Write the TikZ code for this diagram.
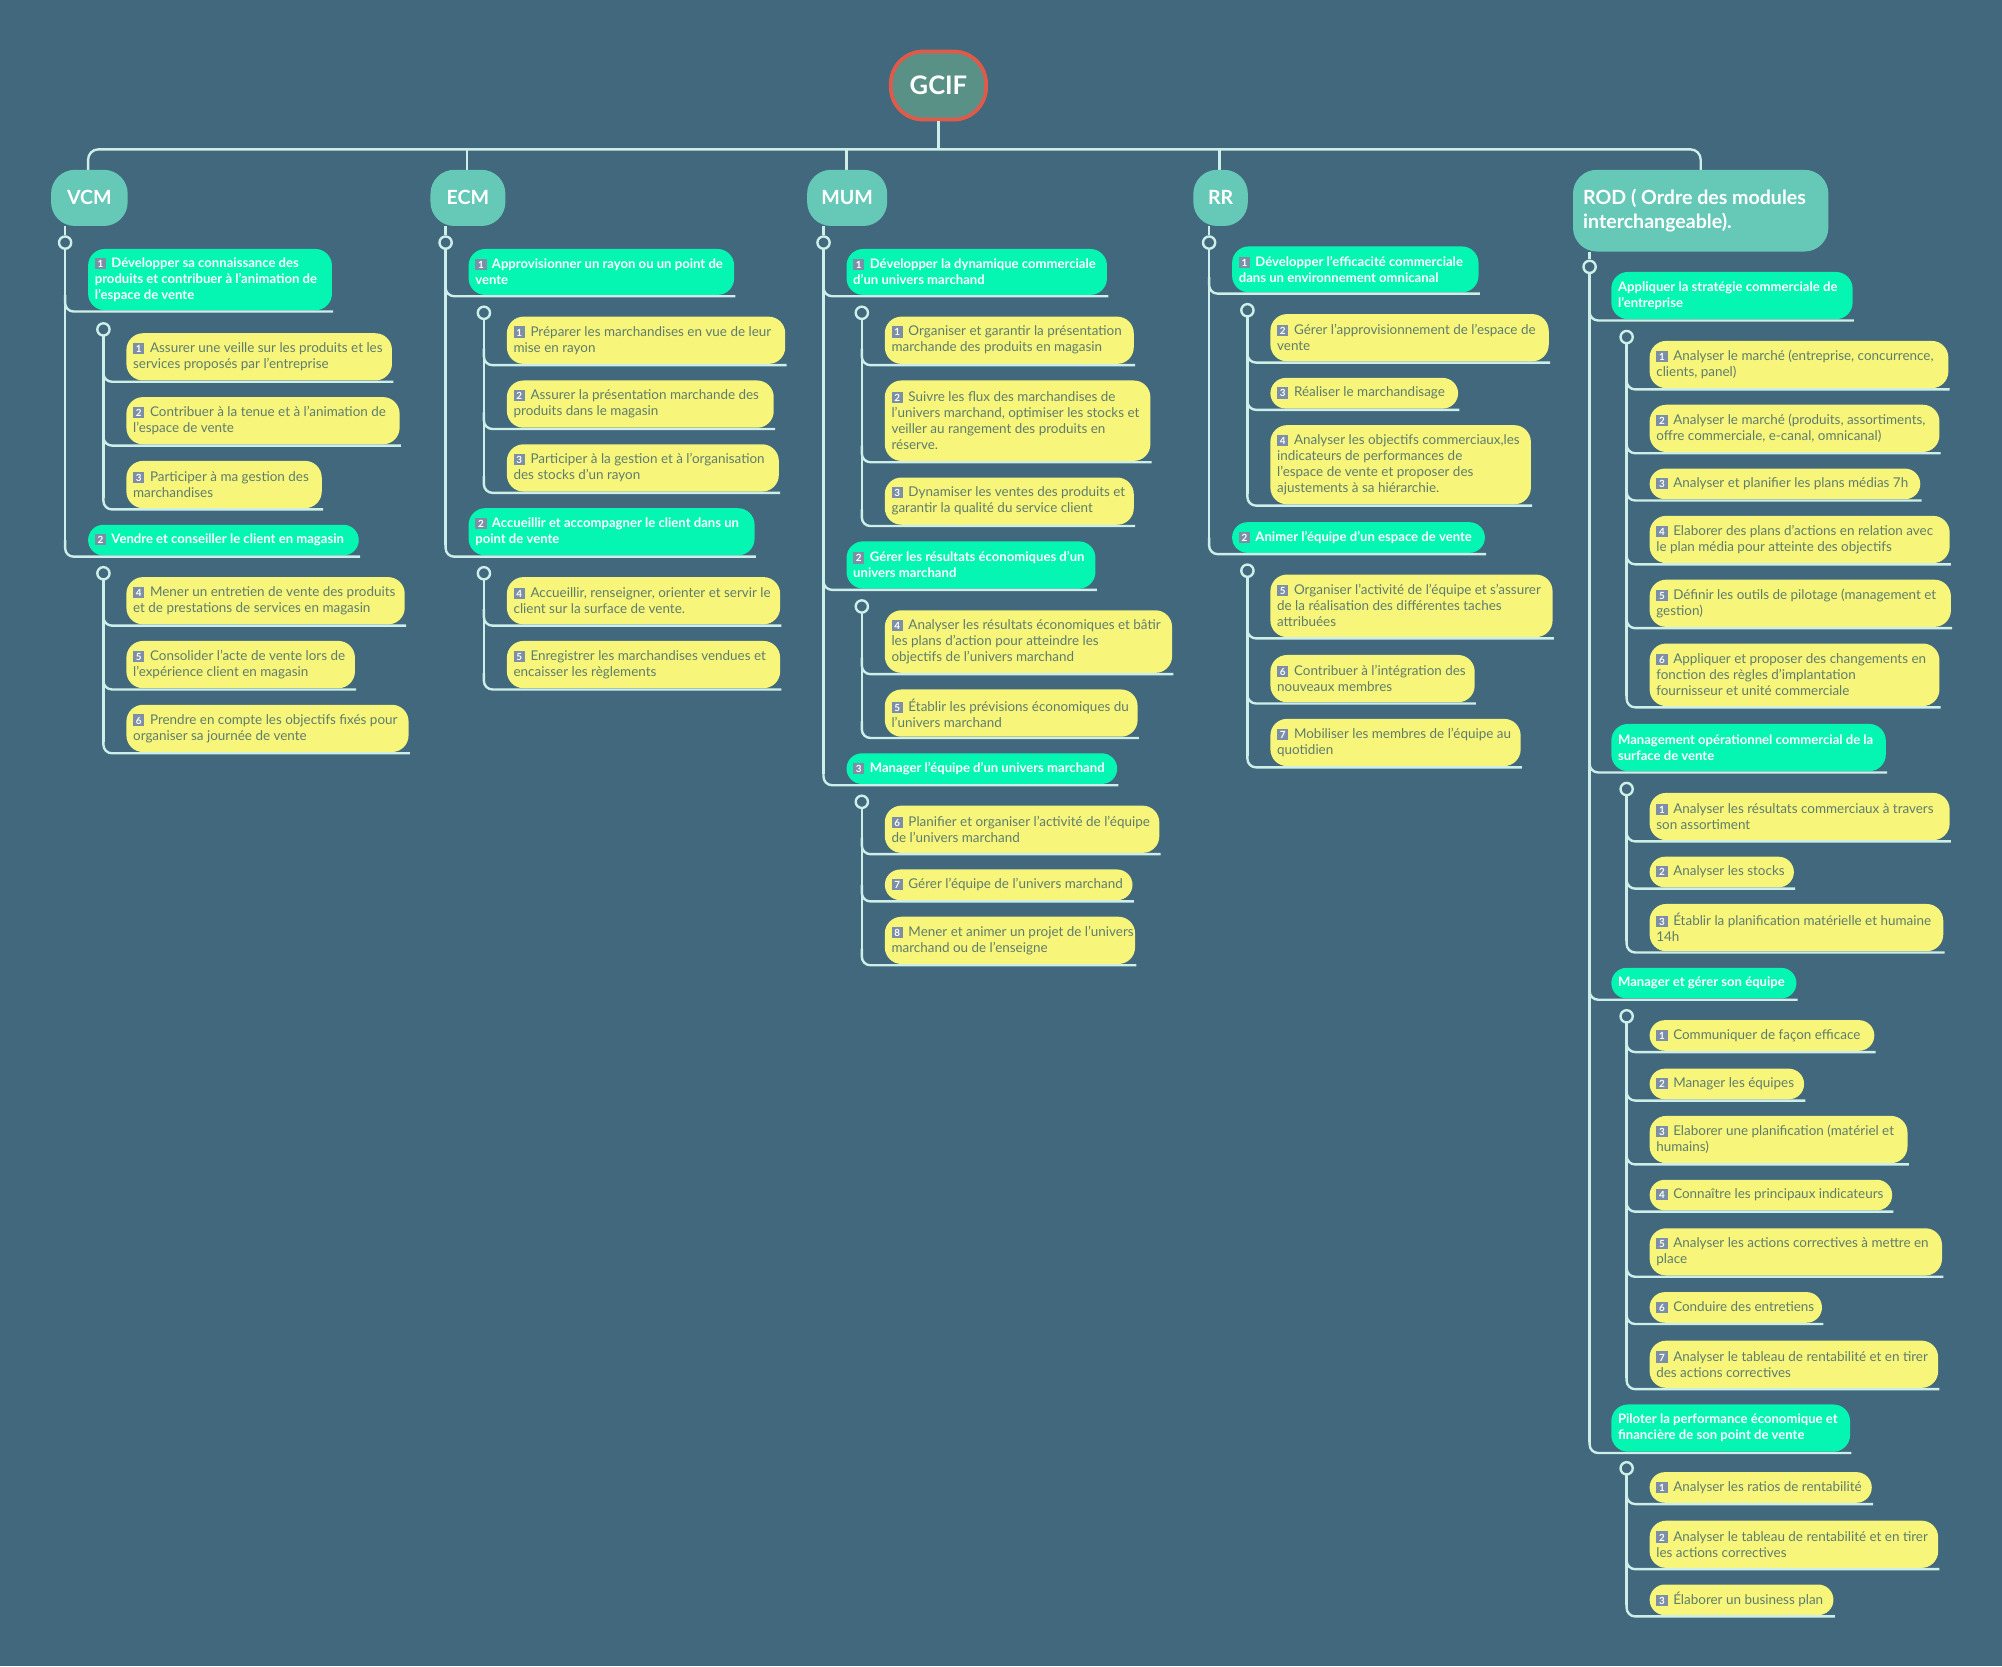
\documentclass[tikz,border=0pt]{standalone}
\usepackage{fontspec}
\setmainfont{Lato}
\definecolor{bg}{HTML}{41687C}
\definecolor{ln}{HTML}{CDEEE9}
\definecolor{mainc}{HTML}{66C9B8}
\definecolor{grn}{HTML}{05F5B2}
\definecolor{yel}{HTML}{F7F57A}
\definecolor{ytx}{HTML}{5F7D6E}
\definecolor{keyc}{HTML}{7D8FA6}
\definecolor{rootc}{HTML}{5A9186}
\definecolor{rootb}{HTML}{E05A4A}
\newcommand\kc[1]{\rlap{\textcolor{keyc}{\rule[-0.9pt]{6.6pt}{6.6pt}}}\makebox[6.6pt]{\textcolor{white}{\fontsize{5.8}{6}\selectfont\bfseries #1}}\,}
\tikzset{
 line/.style={draw=ln,line width=1.4pt},
 yelbox/.style={fill=yel},
 grnbox/.style={fill=grn},
 yeltext/.style={text=ytx,font=\fontsize{7.9}{9.4}\selectfont,align=left,inner sep=0pt},
 grntext/.style={text=white,font=\fontsize{7.7}{9.4}\selectfont\bfseries,align=left,inner sep=0pt},
 mainnode/.style={fill=mainc,text=white,font=\fontsize{11.5}{14}\selectfont\bfseries,rounded corners=14pt,inner sep=0pt,align=left},
 dot/.style={line,fill=bg},
}
% #1 name #2 kind (yel/grn) #3 x1 #4 y1 #5 x2 #6 y2 #7 parent x #8 text
\newcommand\bx[8]{%
 \pgfmathsetmacro\rc{min(13,(#6-#4)/2)*0.75}%
 \fill[#2box,rounded corners=\rc pt] (#3,#4) rectangle (#5,#6);
 \node[#2text,anchor=west] (#1) at ({#3+5},{(#4+#6)/2}) {#8};
 \draw[line,rounded corners=5pt] (#7,{#6-12}) -- (#7,{#6+1}) -- ({#5+1},{#6+1});
}
\newcommand\vl[3]{\draw[line] (#1,#2) -- (#1,{#3-8}); \draw[dot] (#1,{#2}) circle (3.6pt);}
\begin{document}
\begin{tikzpicture}[x=0.75pt,y=-0.75pt]
\fill[bg] (0,0) rectangle (1568,1305);
\useasboundingbox (0,0) rectangle (1568,1305);
% root
\node[fill=rootc,draw=rootb,line width=2.2pt,rounded corners=19pt,minimum width=56pt,minimum height=40pt,text=white,font=\fontsize{15}{18}\selectfont\bfseries] (root) at (735,67) {GCIF};
\draw[line] (root.south) -- (735,117);
\draw[line,rounded corners=6pt] (69,133) -- (69,117) -- (1332,117) -- (1332,133);
\draw[line] (366,117) -- (366,133) (663,117) -- (663,133) (955,117) -- (955,133);
% main nodes
\node[mainnode,minimum width=45pt,minimum height=33pt] (vcm) at (70,155) {VCM};
\node[mainnode,minimum width=44pt,minimum height=33pt] (ecm) at (366.5,155) {ECM};
\node[mainnode,minimum width=47pt,minimum height=33pt] (mum) at (663.5,155) {MUM};
\node[mainnode,minimum width=32pt,minimum height=33pt] (rr) at (956,155) {RR};
\node[mainnode,minimum width=150pt,minimum height=48pt] (rod) at (1332,165) {\makebox[138pt][l]{ROD ( Ordre des modules}\\interchangeable).};
% ---------- VCM
\draw[line] (51,177) -- (51,184); \vl{51}{190}{436}
\bx{v1}{grn}{69}{195}{260}{243}{51}{\kc1 Développer sa connaissance des\\produits et contribuer à l'animation de\\l'espace de vente}
\vl{81}{258}{398}
\bx{v11}{yel}{99}{261}{307}{298}{81}{\kc1 Assurer une veille sur les produits et les\\services proposés par l’entreprise}
\bx{v12}{yel}{99}{311}{313}{348}{81}{\kc2 Contribuer à la tenue et à l’animation de\\l’espace de vente}
\bx{v13}{yel}{99}{361}{252}{398}{81}{\kc3 Participer à ma gestion des\\marchandises}
\bx{v2}{grn}{69}{411}{281}{435}{51}{\kc2 Vendre et conseiller le client en magasin}
\vl{81}{449}{589}
\bx{v21}{yel}{99}{452}{317}{489}{81}{\kc4 Mener un entretien de vente des produits\\et de prestations de services en magasin}
\bx{v22}{yel}{99}{502}{278}{539}{81}{\kc5 Consolider l’acte de vente lors de\\l’expérience client en magasin}
\bx{v23}{yel}{99}{552}{320}{589}{81}{\kc6 Prendre en compte les objectifs fixés pour\\organiser sa journée de vente}
% ---------- ECM
\draw[line] (349,177) -- (349,184); \vl{349}{190}{435}
\bx{e1}{grn}{367}{195}{575}{231}{349}{\kc1 Approvisionner un rayon ou un point de\\vente}
\vl{379}{245}{385}
\bx{e11}{yel}{397}{248}{615}{285}{379}{\kc1 Préparer les marchandises en vue de leur\\mise en rayon}
\bx{e12}{yel}{397}{298}{606}{335}{379}{\kc2 Assurer la présentation marchande des\\produits dans le magasin}
\bx{e13}{yel}{397}{348}{610}{385}{379}{\kc3 Participer à la gestion et à l’organisation\\des stocks d’un rayon}
\bx{e2}{grn}{367}{398}{591}{435}{349}{\kc2 Accueillir et accompagner le client dans un\\point de vente}
\vl{379}{449}{539}
\bx{e21}{yel}{397}{452}{611}{489}{379}{\kc4 Accueillir, renseigner, orienter et servir le\\client sur la surface de vente.}
\bx{e22}{yel}{397}{502}{611}{539}{379}{\kc5 Enregistrer les marchandises vendues et\\encaisser les règlements}
% ---------- MUM
\draw[line] (645,177) -- (645,184); \vl{645}{190}{614}
\bx{m1}{grn}{663}{195}{867}{231}{645}{\kc1 Développer la dynamique commerciale\\d'un univers marchand}
\vl{675}{245}{411}
\bx{m11}{yel}{693}{248}{888}{285}{675}{\kc1 Organiser et garantir la présentation\\marchande des produits en magasin}
\bx{m12}{yel}{693}{298}{901}{361}{675}{\kc2 Suivre les flux des marchandises de\\l’univers marchand, optimiser les stocks et\\veiller au rangement des produits en\\réserve.}
\bx{m13}{yel}{693}{374}{888}{411}{675}{\kc3 Dynamiser les ventes des produits et\\garantir la qualité du service client}
\bx{m2}{grn}{663}{424}{858}{461}{645}{\kc2 Gérer les résultats économiques d’un\\univers marchand}
\vl{675}{475}{577}
\bx{m21}{yel}{693}{478}{918}{527}{675}{\kc4 Analyser les résultats économiques et bâtir\\les plans d’action pour atteindre les\\objectifs de l’univers marchand}
\bx{m22}{yel}{693}{540}{891}{577}{675}{\kc5 Établir les prévisions économiques du\\l’univers marchand}
\bx{m3}{grn}{663}{590}{875}{614}{645}{\kc3 Manager l’équipe d’un univers marchand}
\vl{675}{628}{755}
\bx{m31}{yel}{693}{631}{908}{668}{675}{\kc6 Planifier et organiser l’activité de l’équipe\\de l’univers marchand}
\bx{m32}{yel}{693}{681}{887}{705}{675}{\kc7 Gérer l’équipe de l’univers marchand}
\bx{m33}{yel}{693}{718}{889}{755}{675}{\kc8 Mener et animer un projet de l’univers\\marchand ou de l’enseigne}
% ---------- RR
\draw[line] (947,177) -- (947,184); \vl{947}{190}{433}
\bx{r1}{grn}{965}{193}{1158}{229}{947}{\kc1 Développer l’efficacité commerciale\\dans un environnement omnicanal}
\vl{977}{243}{395}
\bx{r11}{yel}{995}{246}{1213}{283}{977}{\kc2 Gérer l’approvisionnement de l’espace de\\vente}
\bx{r12}{yel}{995}{296}{1142}{320}{977}{\kc3 Réaliser le marchandisage}
\bx{r13}{yel}{995}{333}{1199}{395}{977}{\kc4 Analyser les objectifs commerciaux,les\\indicateurs de performances de\\l’espace de vente et proposer des\\ajustements à sa hiérarchie.}
\bx{r2}{grn}{965}{409}{1163}{433}{947}{\kc2 Animer l’équipe d’un espace de vente}
\vl{977}{447}{600}
\bx{r21}{yel}{995}{450}{1216}{499}{977}{\kc5 Organiser l’activité de l’équipe et s’assurer\\de la réalisation des différentes taches\\attribuées}
\bx{r22}{yel}{995}{513}{1155}{550}{977}{\kc6 Contribuer à l’intégration des\\nouveaux membres}
\bx{r23}{yel}{995}{563}{1191}{600}{977}{\kc7 Mobiliser les membres de l’équipe au\\quotidien}
% ---------- ROD
\draw[line] (1245,197) -- (1245,203); \vl{1245}{209}{1137}
\bx{o1}{grn}{1262}{213}{1451}{250}{1245}{Appliquer la stratégie commerciale de\\l’entreprise}
\vl{1274}{264}{553}
\bx{o11}{yel}{1292}{267}{1526}{304}{1274}{\kc1 Analyser le marché (entreprise, concurrence,\\clients, panel)}
\bx{o12}{yel}{1292}{317}{1519}{354}{1274}{\kc2 Analyser le marché (produits, assortiments,\\offre commerciale, e-canal, omnicanal)}
\bx{o13}{yel}{1292}{367}{1504}{391}{1274}{\kc3 Analyser et planifier les plans médias 7h}
\bx{o14}{yel}{1292}{404}{1527}{441}{1274}{\kc4 Elaborer des plans d’actions en relation avec\\le plan média pour atteinte des objectifs}
\bx{o15}{yel}{1292}{454}{1528}{491}{1274}{\kc5 Définir les outils de pilotage (management et\\gestion)}
\bx{o16}{yel}{1292}{504}{1519}{553}{1274}{\kc6 Appliquer et proposer des changements en\\fonction des règles d’implantation\\fournisseur et unité commerciale}
\bx{o2}{grn}{1262}{567}{1477}{604}{1245}{Management opérationnel commercial de la\\surface de vente}
\vl{1274}{618}{745}
\bx{o21}{yel}{1292}{621}{1527}{658}{1274}{\kc1 Analyser les résultats commerciaux à travers\\son assortiment}
\bx{o22}{yel}{1292}{671}{1405}{695}{1274}{\kc2 Analyser les stocks}
\bx{o23}{yel}{1292}{708}{1522}{745}{1274}{\kc3 Établir la planification matérielle et humaine\\14h}
\bx{o3}{grn}{1262}{758}{1407}{782}{1245}{Manager et gérer son équipe}
\vl{1274}{796}{1087}
\bx{o31}{yel}{1292}{799}{1468}{823}{1274}{\kc1 Communiquer de façon efficace}
\bx{o32}{yel}{1292}{837}{1413}{861}{1274}{\kc2 Manager les équipes}
\bx{o33}{yel}{1292}{874}{1494}{911}{1274}{\kc3 Elaborer une planification (matériel et\\humains)}
\bx{o34}{yel}{1292}{924}{1482}{948}{1274}{\kc4 Connaître les principaux indicateurs}
\bx{o35}{yel}{1292}{962}{1521}{999}{1274}{\kc5 Analyser les actions correctives à mettre en\\place}
\bx{o36}{yel}{1292}{1012}{1427}{1036}{1274}{\kc6 Conduire des entretiens}
\bx{o37}{yel}{1292}{1050}{1518}{1087}{1274}{\kc7 Analyser le tableau de rentabilité et en tirer\\des actions correctives}
\bx{o4}{grn}{1262}{1100}{1449}{1137}{1245}{Piloter la performance économique et\\financière de son point de vente}
\vl{1274}{1150}{1265}
\bx{o41}{yel}{1292}{1153}{1466}{1177}{1274}{\kc1 Analyser les ratios de rentabilité}
\bx{o42}{yel}{1292}{1191}{1518}{1228}{1274}{\kc2 Analyser le tableau de rentabilité et en tirer\\les actions correctives}
\bx{o43}{yel}{1292}{1241}{1436}{1265}{1274}{\kc3 Élaborer un business plan}
\end{tikzpicture}
\end{document}
